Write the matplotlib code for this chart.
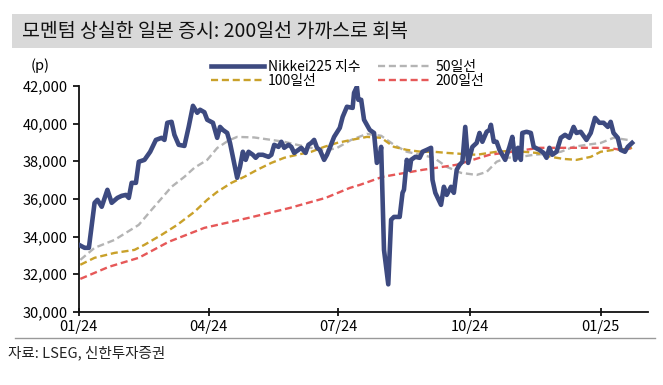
import matplotlib
matplotlib.use("Agg")
import matplotlib.pyplot as plt
import pandas as pd

plt.rcParams['font.family'] = ['Noto Sans CJK KR', 'DejaVu Sans']

# Nikkei225 지수
nk_dates = [
    "2024-01-01", "2024-01-05", "2024-01-08", "2024-01-12", "2024-01-14", "2024-01-17",
    "2024-01-21", "2024-01-24", "2024-01-28", "2024-01-31", "2024-02-03", "2024-02-05",
    "2024-02-07", "2024-02-10", "2024-02-12", "2024-02-16", "2024-02-20", "2024-02-24",
    "2024-02-28", "2024-03-01", "2024-03-03", "2024-03-06", "2024-03-08", "2024-03-11",
    "2024-03-15", "2024-03-18", "2024-03-21", "2024-03-24", "2024-03-26", "2024-03-29",
    "2024-03-31", "2024-04-04", "2024-04-07", "2024-04-09", "2024-04-11", "2024-04-14",
    "2024-04-16", "2024-04-18", "2024-04-21", "2024-04-23", "2024-04-25", "2024-04-27",
    "2024-04-29", "2024-05-02", "2024-05-04", "2024-05-06", "2024-05-09", "2024-05-13",
    "2024-05-15", "2024-05-17", "2024-05-20", "2024-05-22", "2024-05-24", "2024-05-27",
    "2024-05-29", "2024-05-31", "2024-06-03", "2024-06-05", "2024-06-08", "2024-06-10",
    "2024-06-12", "2024-06-14", "2024-06-16", "2024-06-18", "2024-06-21", "2024-06-23",
    "2024-06-25", "2024-06-28", "2024-07-02", "2024-07-04", "2024-07-07", "2024-07-11",
    "2024-07-12", "2024-07-14", "2024-07-15", "2024-07-17", "2024-07-19", "2024-07-23",
    "2024-07-26", "2024-07-28", "2024-07-30", "2024-07-31", "2024-08-01", "2024-08-02",
    "2024-08-05", "2024-08-07", "2024-08-09", "2024-08-13", "2024-08-15", "2024-08-16",
    "2024-08-18", "2024-08-20", "2024-08-21", "2024-08-24", "2024-08-27", "2024-08-29",
    "2024-09-01", "2024-09-04", "2024-09-05", "2024-09-07", "2024-09-11", "2024-09-13",
    "2024-09-15", "2024-09-18", "2024-09-20", "2024-09-22", "2024-09-24", "2024-09-26",
    "2024-09-28", "2024-09-30", "2024-10-03", "2024-10-06", "2024-10-08", "2024-10-10",
    "2024-10-13", "2024-10-15", "2024-10-16", "2024-10-18", "2024-10-20", "2024-10-22",
    "2024-10-24", "2024-10-26", "2024-10-29", "2024-10-31", "2024-11-02", "2024-11-04",
    "2024-11-06", "2024-11-07", "2024-11-10", "2024-11-13", "2024-11-15", "2024-11-19",
    "2024-11-22", "2024-11-24", "2024-11-26", "2024-11-28", "2024-12-01", "2024-12-04",
    "2024-12-07", "2024-12-10", "2024-12-13", "2024-12-15", "2024-12-18", "2024-12-22",
    "2024-12-25", "2024-12-28", "2024-12-31", "2025-01-03", "2025-01-06", "2025-01-08",
    "2025-01-10", "2025-01-13", "2025-01-15", "2025-01-18", "2025-01-20", "2025-01-23",
]
nk_vals = [
    33560, 33400, 33400, 35790, 35950, 35580,
    36480, 35790, 36050, 36160, 36210, 36050,
    36850, 36850, 37970, 38070, 38500, 39130,
    39240, 39130, 40040, 40090, 39400, 38870,
    38810, 39820, 40940, 40570, 40730, 40600,
    40200, 40040, 39240, 39820, 39660, 39500,
    38970, 38230, 37120, 37700, 38500, 38070,
    38500, 38340, 38180, 38340, 38340, 38230,
    38340, 38870, 38760, 39030, 38710, 38870,
    38760, 38440, 38600, 38710, 38440, 38870,
    38970, 39130, 38710, 38600, 38070, 38340,
    38710, 39290, 39770, 40350, 40890, 40830,
    41630, 41950, 41260, 41260, 40200, 39660,
    39500, 37910, 38230, 38760, 36110, 33290,
    31460, 34890, 35040, 35040, 36320, 36480,
    38070, 37540, 38070, 38230, 38180, 38500,
    38600, 38710, 37010, 36320, 35680, 36640,
    36210, 36640, 36320, 37540, 37810, 37970,
    39820, 37910, 38760, 38970, 39500, 39030,
    39560, 39660, 39930, 39030, 39030, 38600,
    38340, 38070, 38760, 39290, 38070, 38710,
    38070, 39500, 39560, 39500, 38760, 38600,
    38440, 38180, 38710, 38340, 38500, 39240,
    39400, 39240, 39820, 39500, 39560, 39130,
    39500, 40300, 40040, 40040, 39820, 40090,
    39500, 39240, 38600, 38500, 38760, 38970,
]

# 50일선
ma50_dates = [
    "2024-01-02", "2024-01-12", "2024-01-26", "2024-02-12", "2024-02-21", "2024-03-06",
    "2024-03-15", "2024-03-22", "2024-03-31", "2024-04-07", "2024-04-15", "2024-04-21",
    "2024-05-03", "2024-05-15", "2024-05-24", "2024-06-02", "2024-06-12", "2024-06-21",
    "2024-06-30", "2024-07-10", "2024-07-21", "2024-07-31", "2024-08-09", "2024-08-18",
    "2024-08-28", "2024-09-06", "2024-09-15", "2024-09-25", "2024-10-06", "2024-10-13",
    "2024-10-20", "2024-10-27", "2024-11-06", "2024-11-15", "2024-11-24", "2024-12-04",
    "2024-12-13", "2024-12-22", "2025-01-01", "2025-01-10", "2025-01-20", "2025-01-23",
]
ma50_vals = [
    32760, 33400, 33820, 34620, 35420, 36640,
    37170, 37650, 38070, 38700, 39100, 39290,
    39260, 39130, 39030, 38870, 38710, 38550,
    38700, 39130, 39450, 39350, 38870, 38500,
    38340, 38180, 37700, 37380, 37270, 37430,
    37970, 38180, 38230, 38340, 38390, 38500,
    38760, 38870, 38970, 39240, 39130, 38970,
]

# 100일선
ma100_dates = [
    "2024-01-02", "2024-01-12", "2024-01-26", "2024-02-09", "2024-02-16", "2024-02-28",
    "2024-03-10", "2024-03-22", "2024-03-31", "2024-04-07", "2024-04-17", "2024-04-26",
    "2024-05-05", "2024-05-15", "2024-05-24", "2024-06-02", "2024-06-12", "2024-06-21",
    "2024-06-30", "2024-07-10", "2024-07-21", "2024-07-31", "2024-08-09", "2024-08-18",
    "2024-08-28", "2024-09-06", "2024-09-15", "2024-09-25", "2024-10-06", "2024-10-20",
    "2024-10-30", "2024-11-08", "2024-11-17", "2024-11-27", "2024-12-06", "2024-12-15",
    "2024-12-25", "2025-01-01", "2025-01-10", "2025-01-20", "2025-01-23",
]
ma100_vals = [
    32500, 32870, 33130, 33290, 33560, 34090,
    34620, 35310, 35950, 36370, 36850, 37170,
    37540, 37910, 38180, 38340, 38500, 38760,
    38970, 39130, 39290, 39240, 38760, 38600,
    38500, 38500, 38440, 38390, 38340, 38500,
    38550, 38500, 38440, 38230, 38120, 38070,
    38230, 38500, 38600, 38650, 38710,
]

# 200일선
ma200_dates = [
    "2024-01-02", "2024-01-22", "2024-02-12", "2024-03-04", "2024-03-29", "2024-04-29",
    "2024-05-28", "2024-06-22", "2024-07-09", "2024-07-16", "2024-08-01", "2024-08-29",
    "2024-09-22", "2024-10-15", "2024-10-31", "2024-11-19", "2024-12-13", "2025-01-05",
    "2025-01-16", "2025-01-23",
]
ma200_vals = [
    31750, 32390, 32870, 33720, 34460, 34990,
    35520, 36050, 36580, 36740, 37170, 37540,
    37810, 38340, 38500, 38710, 38710, 38710,
    38600, 38710,
]

title = "모멘텀 상실한 일본 증시: 200일선 가까스로 회복"
source = "자료: LSEG, 신한투자증권"
xtick_dates = ["2024-01-01", "2024-04-01", "2024-07-01", "2024-10-01", "2025-01-01"]
xtick_labels = ["01/24", "04/24", "07/24", "10/24", "01/25"]
yticks = [30000, 32000, 34000, 36000, 38000, 40000, 42000]

fig = plt.figure(figsize=(6.63, 3.85), dpi=100)
ax = fig.add_axes([0.119, 0.19, 0.858, 0.587])

# 제목 배경
fig.patches.append(plt.Rectangle((0.018, 0.875), 0.965, 0.089, transform=fig.transFigure,
                                 facecolor='#d9d9d9', edgecolor='none', zorder=0))
fig.text(0.033, 0.918, title, fontsize=14, fontweight='medium', va='center', ha='left',
         color='#111111')

dash = (0, (3, 1.6))
ax.plot(pd.to_datetime(ma50_dates), ma50_vals, color='#b4b4b4', lw=1.7, ls=dash, label='50일선', zorder=2)
ax.plot(pd.to_datetime(ma100_dates), ma100_vals, color='#c9a12a', lw=1.7, ls=dash, label='100일선', zorder=2)
ax.plot(pd.to_datetime(ma200_dates), ma200_vals, color='#e65858', lw=1.7, ls=dash, label='200일선', zorder=2)
ax.plot(pd.to_datetime(nk_dates), nk_vals, color='#3d4a80', lw=3.3, label='Nikkei225 지수', zorder=3)

ax.set_xlim(pd.Timestamp("2024-01-01"), pd.Timestamp("2025-02-03"))
ax.set_ylim(30000, 42000)
ax.set_yticks(yticks)
ax.yaxis.set_major_formatter(matplotlib.ticker.FuncFormatter(lambda v, p: f"{int(v):,}"))
ax.set_xticks(pd.to_datetime(xtick_dates))
ax.set_xticklabels(xtick_labels)

for s in ['top', 'right']:
    ax.spines[s].set_visible(False)
for s in ['left', 'bottom']:
    ax.spines[s].set_linewidth(1.3)
    ax.spines[s].set_color('#111111')
ax.tick_params(axis='y', direction='out', length=4, width=1.2, labelsize=10.5, pad=4)
ax.tick_params(axis='x', direction='inout', length=6, width=1.2, labelsize=10.5, pad=3)

fig.text(0.046, 0.83, "(p)", fontsize=10.5, ha='left', va='center')

handles, labels = ax.get_legend_handles_labels()
order = [3, 1, 0, 2]
ax.legend([handles[i] for i in order], [labels[i] for i in order], ncol=2,
          loc='lower left', bbox_to_anchor=(0.222, 0.965), frameon=False, fontsize=10,
          handlelength=3.8, handletextpad=0.3, columnspacing=1.3, labelspacing=0.05,
          borderaxespad=0)

# 하단 구분선과 출처
fig.add_artist(plt.Line2D([0.022, 0.988], [0.122, 0.122], transform=fig.transFigure,
                          color='#999999', lw=1))
fig.text(0.012, 0.083, source, fontsize=10.5, ha='left', va='center', color='#222222')

fig.savefig("out.png", dpi=100)
